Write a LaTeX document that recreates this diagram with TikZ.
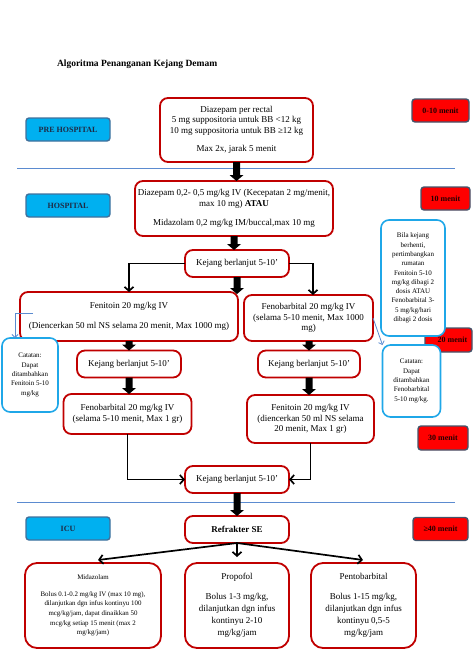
\documentclass[tikz,border=0pt]{standalone}
\usepackage{fontspec}
\setmainfont{Liberation Serif}
\usetikzlibrary{arrows.meta,calc}
\definecolor{redb}{HTML}{C00000}
\definecolor{stagefill}{HTML}{00B0F0}
\definecolor{stagedraw}{HTML}{41719C}
\definecolor{timefill}{HTML}{FF0000}
\definecolor{timedraw}{HTML}{44546A}
\definecolor{notedraw}{HTML}{1FA7E8}
\definecolor{sepline}{HTML}{5B8BD0}
\definecolor{stagetext}{HTML}{1F2A44}
\newcommand{\blockarrowdown}[2]{%
  \fill let \p1=(#1), \p2=(#2) in
    (\x1-3.5pt,\y1) -- (\x1+3.5pt,\y1) -- (\x1+3.5pt,\y2+6pt) -- (\x1+7pt,\y2+6pt)
    -- (\x1,\y2) -- (\x1-7pt,\y2+6pt) -- (\x1-3.5pt,\y2+6pt) -- cycle;}
\begin{document}
\begin{tikzpicture}[x=1pt,y=-1pt,
  every node/.style={inner sep=0pt, outer sep=0pt, align=center},
  redbox/.style={draw=redb, line width=1.8pt, rounded corners=8pt, fill=white,
    font=\fontsize{9}{10.5}\selectfont},
  stagebox/.style={draw=stagedraw, fill=stagefill, line width=1.4pt, rounded corners=3pt,
    minimum width=84pt, minimum height=23pt, font=\fontsize{8}{9}\selectfont\bfseries, text=stagetext},
  timebox/.style={draw=timedraw, fill=timefill, line width=1.4pt, rounded corners=3pt,
    minimum height=23pt, font=\fontsize{8}{9}\selectfont\bfseries, text=black!85!red},
  notebox/.style={draw=notedraw, line width=1.6pt, fill=white, rounded corners=8pt,
    font=\fontsize{7}{9.3}\selectfont},
  conn/.style={line width=1.7pt, -{Straight Barb[length=4pt,width=9pt]}},
  bconn/.style={draw=sepline, line width=0.8pt, -{Straight Barb[length=3pt,width=6pt]}},
  sep/.style={draw=sepline, line width=0.9pt},
]
\useasboundingbox (0,0) rectangle (474,670);

% title
\node[font=\fontsize{9.5}{11}\selectfont\bfseries, anchor=west] (title) at (57,64) {Algoritma Penanganan Kejang Demam};

% separators
\draw[sep] (17,168) -- (455,168);
\draw[sep] (17,502) -- (455,502);

% stage labels
\node[stagebox] (pre) at (68,129.5) {PRE HOSPITAL};
\node[stagebox] (hosp) at (68,205.5) {HOSPITAL};
\node[stagebox] (icu) at (68,528.5) {ICU};

% time boxes
\node[timebox, minimum width=57pt] (t1) at (440.5,110.5) {0-10 menit};
\node[timebox, minimum width=49pt] (t2) at (445.5,198.5) {10 menit};
\node[timebox, minimum width=47pt, minimum height=24pt] (t3) at (448.5,340) {\hspace*{8pt}20 menit};
\node[timebox, minimum width=50pt, minimum height=24pt] (t4) at (443,438) {30 menit};
\node[timebox, minimum width=55pt] (t5) at (440.5,529) {≥40 menit};

% main boxes
\node[redbox, minimum width=153pt, minimum height=64pt] (b1) at (236.5,130)
  {Diazepam per rectal\\5 mg suppositoria untuk BB <12 kg\\10 mg suppositoria untuk BB ≥12 kg\\[8pt]Max 2x, jarak 5 menit};
\node[redbox, minimum width=198pt, minimum height=55pt] (b2) at (234,208.5)
  {Diazepam 0,2- 0,5 mg/kg IV (Kecepatan 2 mg/menit,\\max 10 mg) \textbf{ATAU}\\[9pt]Midazolam 0,2 mg/kg IM/buccal,max 10 mg};
\node[redbox, minimum width=104pt, minimum height=27pt] (k1) at (237,263.5) {Kejang berlanjut 5-10'};
\node[redbox, minimum width=218pt, minimum height=49pt] (fenL) at (129,316.5)
  {Fenitoin 20 mg/kg IV\\[9pt](Diencerkan 50 ml NS selama 20 menit, Max 1000 mg)};
\node[redbox, minimum width=129pt, minimum height=46pt] (fenR) at (308.5,318)
  {Fenobarbital 20 mg/kg IV\\(selama 5-10 menit, Max 1000\\mg)};
\node[redbox, minimum width=104pt, minimum height=27pt] (k2L) at (129,364) {Kejang berlanjut 5-10'};
\node[redbox, minimum width=102pt, minimum height=27pt] (k2R) at (309,364) {Kejang berlanjut 5-10'};
\node[redbox, minimum width=128pt, minimum height=40pt] (fbL) at (127.5,414)
  {Fenobarbital 20 mg/kg IV\\(selama 5-10 menit, Max 1 gr)};
\node[redbox, minimum width=127pt, minimum height=48pt] (ftR) at (310.5,419)
  {Fenitoin 20 mg/kg IV\\(diencerkan 50 ml NS selama\\20 menit, Max 1 gr)};
\node[redbox, minimum width=104pt, minimum height=27pt] (k3) at (237,479.5) {Kejang berlanjut 5-10'};
\node[redbox, minimum width=104pt, minimum height=27pt, font=\fontsize{9}{10.5}\selectfont\bfseries] (ref) at (237,529.5) {Refrakter SE};

% ICU boxes
\node[redbox, rounded corners=12pt, minimum width=136pt, minimum height=85pt, font=\fontsize{6.9}{9.7}\selectfont] (m1) at (93,605.5)
  {Midazolam\\[7pt]Bolus 0.1-0.2 mg/kg IV (max 10 mg),\\dilanjutkan dgn infus kontinyu 100\\mcg/kg/jam, dapat dinaikkan 50\\mcg/kg setiap 15 menit (max 2\\mg/kg/jam)};
\node[redbox, rounded corners=12pt, minimum width=104pt, minimum height=85pt, font=\fontsize{9}{12}\selectfont] (m2) at (237,605.5)
  {Propofol\\[8pt]Bolus 1-3 mg/kg,\\dilanjutkan dgn infus\\kontinyu 2-10\\mg/kg/jam};
\node[redbox, rounded corners=12pt, minimum width=105pt, minimum height=85pt, font=\fontsize{9}{12}\selectfont] (m3) at (363.5,605.5)
  {Pentobarbital\\[8pt]Bolus 1-15 mg/kg,\\dilanjutkan dgn infus\\kontinyu 0,5-5\\mg/kg/jam};

% notes
\node[notebox, minimum width=64pt, minimum height=116pt] (note1) at (413,278)
  {Bila kejang\\berhenti,\\pertimbangkan\\rumatan\\Fenitoin 5-10\\mg/kg dibagi 2\\dosis ATAU\\Fenobarbital 3-\\5 mg/kg/hari\\dibagi 2 dosis};
\node[notebox, minimum width=56pt, minimum height=74pt] (noteL) at (30,375)
  {Catatan:\\Dapat\\ditambahkan\\Fenitoin 5-10\\mg/kg};
\node[notebox, minimum width=58pt, minimum height=72pt] (noteR) at (411.5,381)
  {Catatan:\\Dapat\\ditambahkan\\Fenobarbital\\5-10 mg/kg.};

% helper coordinates
\coordinate (j1) at (237,294);
\coordinate (aR) at (313,295);
\coordinate (mL) at (98,560);
\coordinate (mC) at (237,557);
\coordinate (mR) at (363,560);
\coordinate (c1) at (33,313);
\coordinate (c2) at (15,338);

% thick block arrows
\blockarrowdown{b1.south}{b1.south |- b2.north}
\blockarrowdown{b2.south |- b2.south}{b2.south |- k1.north}
\blockarrowdown{k1.south}{j1}
\blockarrowdown{fenL.south}{fenL.south |- k2L.north}
\blockarrowdown{k2R.north |- fenR.south}{k2R.north}
\blockarrowdown{k2L.south}{k2L.south |- fbL.north}
\blockarrowdown{k2R.south}{k2R.south |- ftR.north}
\blockarrowdown{k3.south}{ref.north}

% thin connectors
\draw[conn] (k1.west) -| (fenL.north);
\draw[conn] (k1.east) -| (aR);
\draw[conn] (fbL.south) |- (k3.west);
\draw[conn] (ftR.south) |- (k3.east);
\draw[conn] (ref.south) -- (mL);
\draw[conn] (ref.south) -- (mC);
\draw[conn] (ref.south) -- (mR);

% note connectors
\draw[bconn] (c1) -| (c2);
\draw[bconn] (fenR.east) -- (noteR.north west);
\end{tikzpicture}
\end{document}
